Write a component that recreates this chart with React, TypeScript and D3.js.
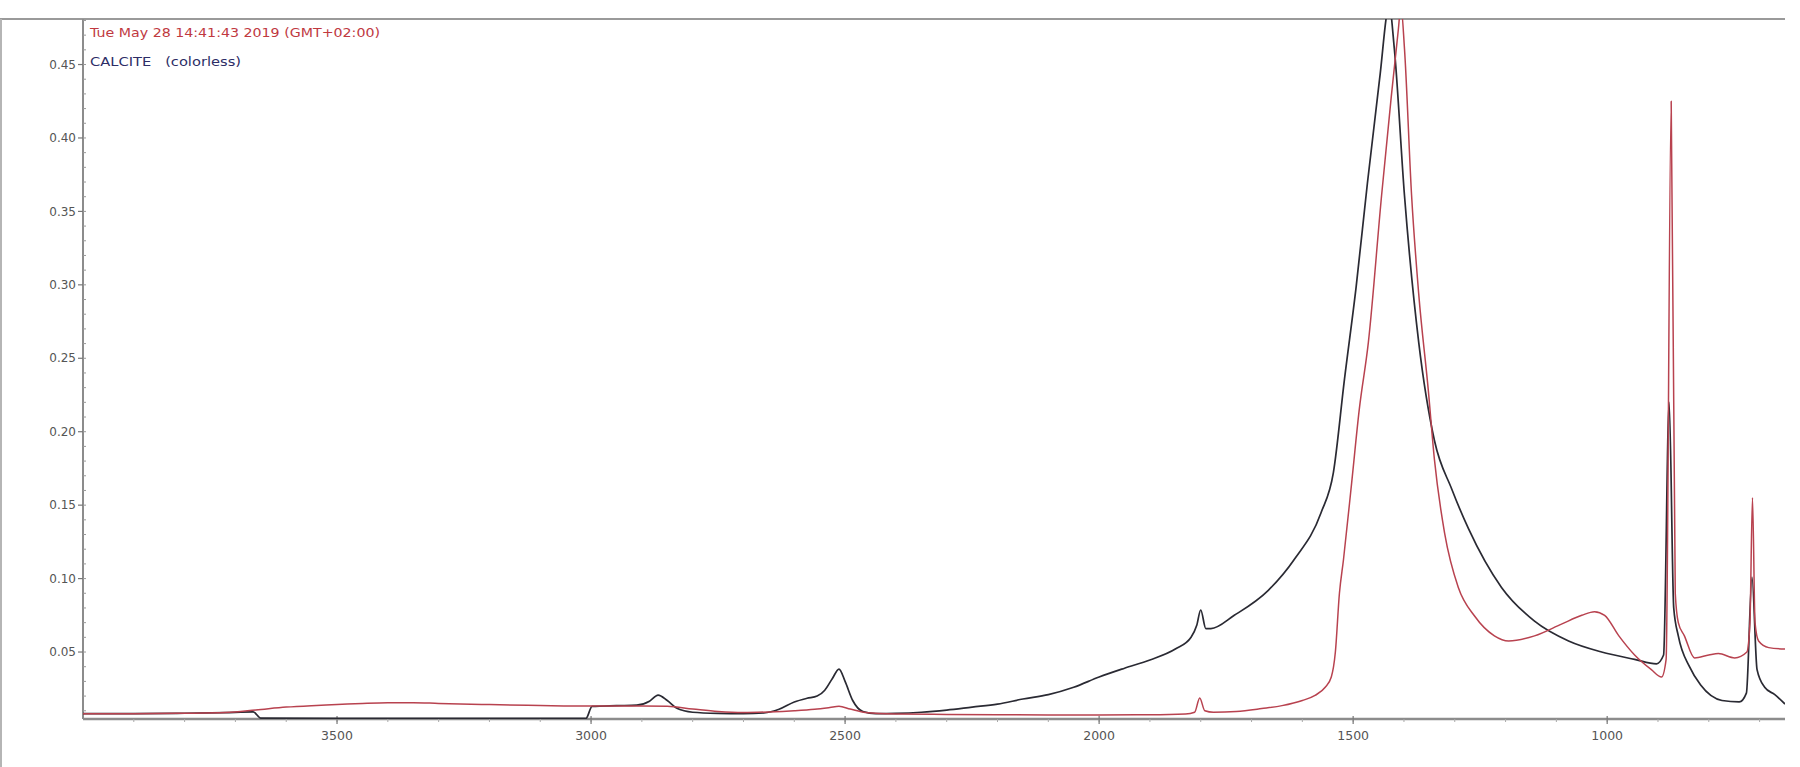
import React from "react";
import * as d3 from "d3";

// ---- Data ----
const sampleLabel = "Tue May 28 14:41:43 2019 (GMT+02:00)";
const libraryLabel = "CALCITE   (colorless)";

const sampleWavenumber = [
  4000, 3900, 3800, 3720, 3660, 3600, 3550, 3500, 3450, 3400, 3350, 3300, 3200, 3100, 3000, 2900, 2850,
  2800, 2750, 2700, 2650, 2600, 2560, 2530, 2512, 2490, 2460, 2400, 2300, 2200, 2100, 2000, 1900, 1830,
  1812, 1802, 1792, 1775, 1730, 1680, 1640, 1600, 1575, 1555, 1543, 1535, 1527, 1519, 1503, 1488, 1470,
  1444, 1425, 1411, 1406, 1399, 1385, 1371, 1352, 1340, 1320, 1293, 1261, 1222, 1194, 1143, 1090, 1050,
  1025, 1005, 977, 946, 913, 893, 884, 874, 866, 860, 848, 828, 800, 781, 749, 725, 719, 714, 709, 702,
  682, 650,
];
const sampleAbsorbance = [
  0.008, 0.008, 0.0083, 0.0088, 0.0105, 0.0125, 0.0135, 0.0142, 0.015, 0.0155, 0.0155, 0.015, 0.0142,
  0.0136, 0.0132, 0.0132, 0.013, 0.0112, 0.0095, 0.0088, 0.0092, 0.01, 0.011, 0.0122, 0.013, 0.0112,
  0.0088, 0.0078, 0.0075, 0.0073, 0.0072, 0.0072, 0.0073, 0.0078, 0.009, 0.0187, 0.01, 0.009, 0.0095,
  0.0115, 0.0135, 0.017, 0.0205, 0.026, 0.033, 0.05, 0.09, 0.113, 0.165, 0.215, 0.261, 0.361, 0.428,
  0.474, 0.49, 0.461, 0.361, 0.294, 0.228, 0.181, 0.131, 0.094, 0.0745, 0.061, 0.0575, 0.061, 0.069,
  0.075, 0.0775, 0.075, 0.061, 0.048, 0.038, 0.033, 0.045, 0.425, 0.09, 0.07, 0.061, 0.046, 0.048, 0.049,
  0.046, 0.05, 0.07, 0.155, 0.07, 0.0575, 0.053, 0.052,
];

const libraryWavenumber = [
  4000, 3900, 3800, 3720, 3665, 3650, 3500, 3200, 3010, 2998, 2950, 2910, 2885, 2868, 2850, 2830, 2800,
  2750, 2700, 2660, 2630, 2600, 2575, 2555, 2540, 2525, 2512, 2500, 2485, 2465, 2440, 2400, 2350, 2300,
  2250, 2200, 2150, 2100, 2050, 2000, 1950, 1900, 1850, 1819, 1808, 1800, 1790, 1780, 1734, 1667, 1616,
  1563, 1539, 1517, 1494, 1472, 1448, 1429, 1419, 1399, 1371, 1340, 1306, 1273, 1208, 1143, 1076, 1011,
  946, 903, 889, 878, 869, 860, 838, 816, 774, 740, 726, 715, 705, 690, 670, 650,
];
const libraryAbsorbance = [
  0.008, 0.008, 0.0083, 0.0088, 0.0092, 0.005, 0.0048, 0.0048, 0.0048, 0.013, 0.0135, 0.0138, 0.0165,
  0.0207, 0.017, 0.0115, 0.009, 0.0082, 0.008, 0.0085, 0.011, 0.016, 0.0185, 0.02, 0.024, 0.032, 0.0384,
  0.03, 0.017, 0.0095, 0.008, 0.0082, 0.009, 0.0105, 0.0125, 0.0145, 0.018, 0.021, 0.026, 0.033, 0.039,
  0.0446, 0.052, 0.06, 0.068, 0.0786, 0.066, 0.066, 0.075, 0.092, 0.113, 0.145, 0.172, 0.236, 0.299,
  0.369, 0.44, 0.49, 0.461, 0.361, 0.261, 0.194, 0.161, 0.134, 0.094, 0.071, 0.0575, 0.05, 0.045, 0.042,
  0.048, 0.22, 0.08, 0.061, 0.04, 0.0275, 0.017, 0.016, 0.022, 0.101, 0.038, 0.026, 0.021, 0.0146,
];

const xTickLabels = [3500, 3000, 2500, 2000, 1500, 1000];
const yTickLabels = [0.05, 0.1, 0.15, 0.2, 0.25, 0.3, 0.35, 0.4, 0.45];

const W = 1800;
const H = 767;
const plot = { left: 83, right: 1785, top: 19, bottom: 719 };

export default function App() {
  const x = d3.scaleLinear().domain([4000, 650]).range([plot.left, plot.right]);
  const y = d3.scaleLinear().domain([0.0044, 0.481]).range([plot.bottom, plot.top]);

  const line = d3
    .line<[number, number]>()
    .x((d) => x(d[0]))
    .y((d) => y(d[1]))
    .curve(d3.curveMonotoneX);

  const sample = sampleWavenumber.map((w, i) => [w, sampleAbsorbance[i]] as [number, number]);
  const library = libraryWavenumber.map((w, i) => [w, libraryAbsorbance[i]] as [number, number]);

  const xMinor = d3.range(700, 4000, 100);
  const yMinor = d3.range(0.01, 0.481, 0.01);

  const font = "'DejaVu Sans', 'Liberation Sans', Arial, sans-serif";

  return (
    <svg
      width={W}
      height={H}
      style={{ position: "absolute", left: 0, top: 0, background: "#fff" }}
    >
      <defs>
        <clipPath id="plotClip">
          <rect x={plot.left} y={plot.top} width={plot.right - plot.left} height={plot.bottom - plot.top} />
        </clipPath>
      </defs>

      {/* frame */}
      <line x1={0} x2={plot.right} y1={plot.top} y2={plot.top} stroke="#9a9a9a" strokeWidth={2} />
      <line x1={1} x2={1} y1={plot.top} y2={H} stroke="#b5b5b5" strokeWidth={2} />

      {/* y axis */}
      <line x1={plot.left} x2={plot.left} y1={plot.top} y2={plot.bottom} stroke="#8c8c8c" strokeWidth={2} />
      {yMinor.map((v) => (
        <line key={"ym" + v} x1={plot.left} x2={plot.left + 3} y1={y(v)} y2={y(v)} stroke="#999" strokeWidth={1} />
      ))}
      {yTickLabels.map((v) => (
        <g key={"y" + v}>
          <line x1={plot.left - 5} x2={plot.left} y1={y(v)} y2={y(v)} stroke="#777" strokeWidth={1.2} />
          <text
            x={plot.left - 7}
            y={y(v)}
            dy="0.35em"
            textAnchor="end"
            fontFamily={font}
            fontSize={12}
            fill="#555"
          >
            {v.toFixed(2)}
          </text>
        </g>
      ))}

      {/* x axis */}
      <line x1={plot.left} x2={plot.right} y1={plot.bottom} y2={plot.bottom} stroke="#8c8c8c" strokeWidth={2.5} />
      {xMinor.map((v) => (
        <line key={"xm" + v} x1={x(v)} x2={x(v)} y1={plot.bottom} y2={plot.bottom + 3} stroke="#aaa" strokeWidth={1} />
      ))}
      {xTickLabels.map((v) => (
        <g key={"x" + v}>
          <line x1={x(v)} x2={x(v)} y1={plot.bottom - 3} y2={plot.bottom + 5} stroke="#777" strokeWidth={1.2} />
          <text
            x={x(v)}
            y={plot.bottom + 21}
            textAnchor="middle"
            fontFamily={font}
            fontSize={12.5}
            fill="#555"
          >
            {v}
          </text>
        </g>
      ))}

      {/* spectra */}
      <g clipPath="url(#plotClip)">
        <path d={line(library) || ""} fill="none" stroke="#2a2a33" strokeWidth={1.7} strokeLinejoin="round" />
        <path d={line(sample) || ""} fill="none" stroke="#b8424f" strokeWidth={1.5} strokeLinejoin="round" />
      </g>

      {/* legend */}
      <text
        x={90}
        y={37}
        fontFamily={font}
        fontSize={13}
        fill="#c0393f"
        textLength={290}
        lengthAdjust="spacingAndGlyphs"
      >
        {sampleLabel}
      </text>
      <text
        x={90}
        y={66}
        fontFamily={font}
        fontSize={13}
        fill="#2d2d66"
        style={{ whiteSpace: "pre" }}
        textLength={151}
        lengthAdjust="spacingAndGlyphs"
      >
        {libraryLabel}
      </text>
    </svg>
  );
}
